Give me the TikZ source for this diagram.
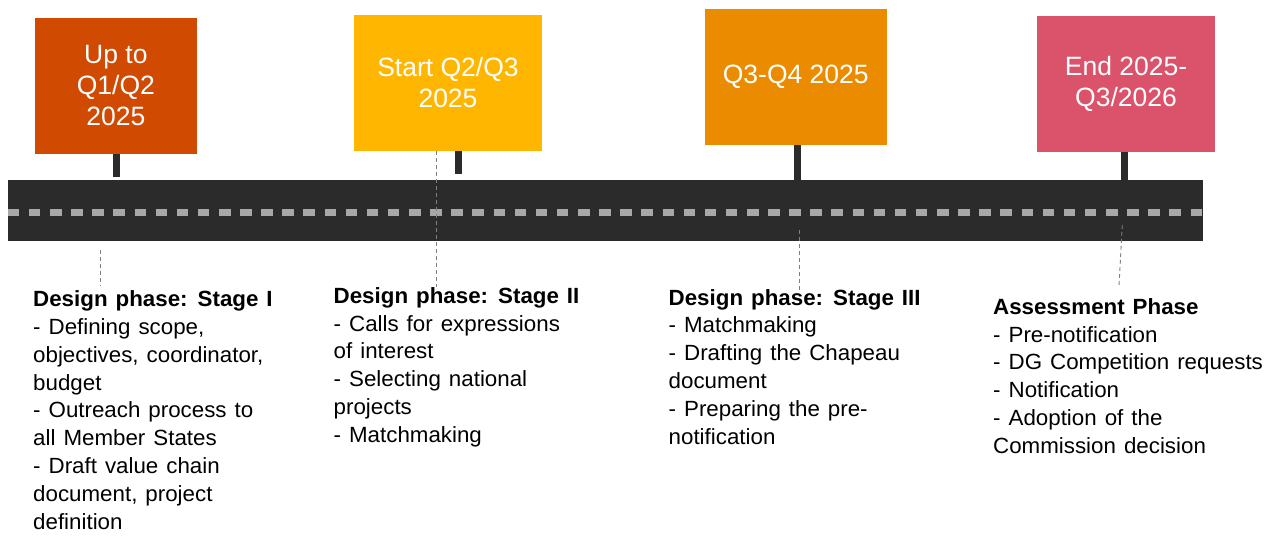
\documentclass[tikz,border=0pt]{standalone}
\usepackage{fontspec}
\setmainfont{Liberation Sans}
\newfontfamily\bodyfont[FakeStretch=1.015]{Liberation Sans}
\definecolor{cOrange}{HTML}{D04A02}
\definecolor{cYellow}{HTML}{FFB600}
\definecolor{cTang}{HTML}{EB8C00}
\definecolor{cRose}{HTML}{DB536A}
\definecolor{cRoad}{HTML}{2B2B2B}
\definecolor{cLane}{HTML}{A8A8A8}
\definecolor{cGuide}{HTML}{808080}
\tikzset{
  datebox/.style={fill=#1, draw=none, inner sep=0pt, align=center, text=white,
    font=\fontsize{26.5}{31}\selectfont},
  roadbar/.style={fill=cRoad, draw=none, inner sep=0pt},
  lane/.style={draw=cLane, line width=7.7pt, dash pattern=on 11.5pt off 9.62pt},
  stem/.style={draw=cRoad, line width=7pt},
  guide/.style={draw=cGuide, line width=0.9pt, dash pattern=on 4pt off 3pt},
  phase/.style={anchor=base west, inner sep=0pt, text=black}
}
\newcommand{\phasetext}[1]{\parbox[t]{320pt}{\bodyfont\fontsize{22}{27.8}\selectfont\spaceskip=8pt plus 1pt\raggedright #1}}
\begin{document}
\begin{tikzpicture}[x=1pt,y=-1pt]
\useasboundingbox (0,0) rectangle (1275,541);
\fill[white] (0,0) rectangle (1275,541);

% road
\node[roadbar, minimum width=1194.7pt, minimum height=60.7pt] (road) at (605.35,210.35) {};
\coordinate (lane) at (0,212.4);
\draw[lane] (road.west |- lane) -- (road.east |- lane);

% date boxes
\node[datebox=cOrange, minimum width=161.7pt, minimum height=136pt] (b1) at (115.85,86) {Up to\\Q1/Q2\\2025};
\node[datebox=cYellow, minimum width=188pt, minimum height=135.7pt] (b2) at (448,82.85) {Start Q2/Q3\\2025};
\node[datebox=cTang, minimum width=181.5pt, minimum height=136pt] (b3) at (795.75,77) {Q3-Q4 2025};
\node[datebox=cRose, minimum width=178pt, minimum height=136pt] (b4) at (1126,84) {End 2025-\\Q3/2026};

% stems
\coordinate (s1) at (116,177.3);
\coordinate (s2) at (458.8,174.3);
\coordinate (s3) at (797.2,180);
\coordinate (s4) at (1124,181);
\draw[stem] (s1 |- b1.south) -- (s1);
\draw[stem] (s2 |- b2.south) -- (s2);
\draw[stem] (s3 |- b3.south) -- (s3);
\draw[stem] (s4 |- b4.south) -- (s4);

% guide lines
\coordinate (g1a) at (100,250);
\coordinate (g1b) at (100,285.7);
\coordinate (g2b) at (436.7,287);
\coordinate (g3a) at (799,230);
\coordinate (g3b) at (799,290);
\coordinate (g4a) at (1122.3,225);
\coordinate (g4b) at (1119,285.7);
\draw[guide] (g1a) -- (g1b);
\draw[guide] (g2b |- b2.south) -- (g2b);
\draw[guide] (g3a) -- (g3b);
\draw[guide] (g4a) -- (g4b);

% phase texts
\node[phase] (p1) at (33,306.7) {\phasetext{\textbf{Design phase: Stage I}\\- Defining scope,\\objectives, coordinator,\\budget\\- Outreach process to\\all Member States\\- Draft value chain\\document, project\\definition}};
\node[phase] (p2) at (333.5,303.3) {\phasetext{\textbf{Design phase: Stage II}\\- Calls for expressions\\of interest\\- Selecting national\\projects\\- Matchmaking}};
\node[phase] (p3) at (668.5,305) {\phasetext{\textbf{Design phase: Stage III}\\- Matchmaking\\- Drafting the Chapeau\\document\\- Preparing the pre-\\notification}};
\node[phase] (p4) at (993,314.3) {\phasetext{\textbf{Assessment Phase}\\- Pre-notification\\- DG Competition requests\\- Notification\\- Adoption of the\\Commission decision}};
\end{tikzpicture}
\end{document}
